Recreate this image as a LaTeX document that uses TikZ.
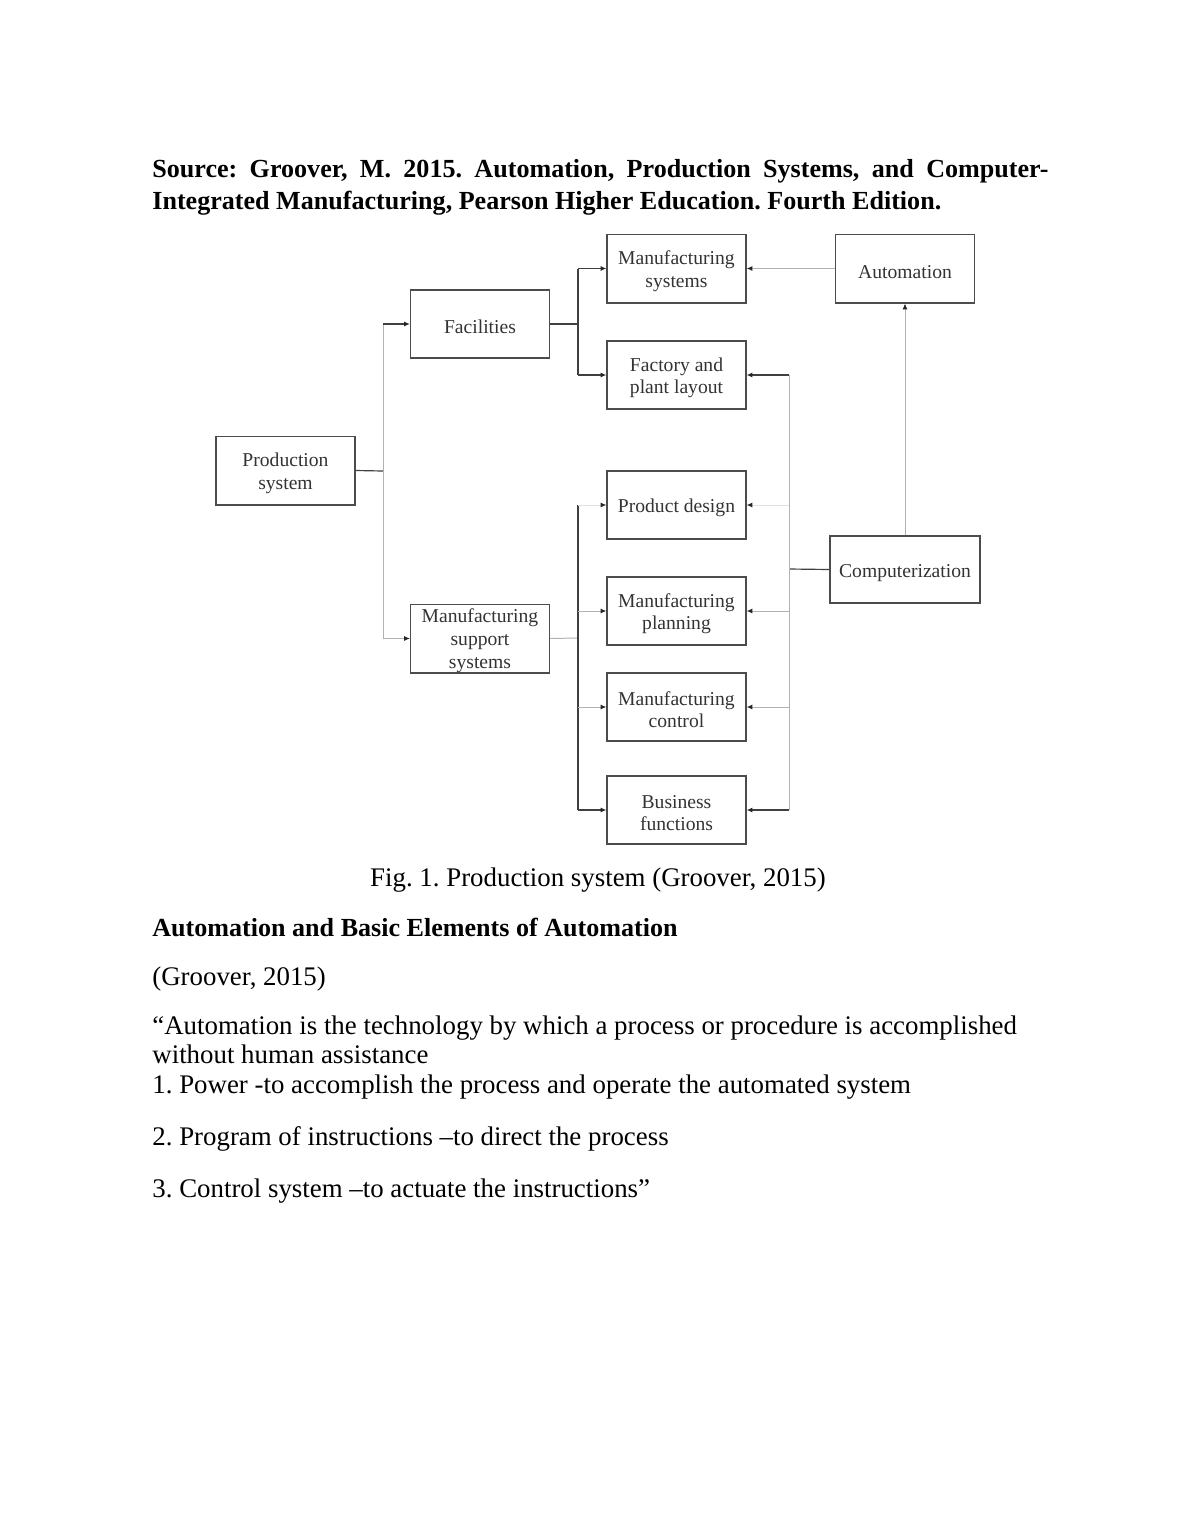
\documentclass[tikz,border=0pt]{standalone}
\usepackage{fontspec}
\setmainfont{Liberation Serif}
\usetikzlibrary{arrows.meta}
\frenchspacing
\newcommand\fl{\rule{0pt}{9.8pt}}
\begin{document}
\begin{tikzpicture}[x=0.51pt,y=-0.51pt,
  box/.style={draw=black!70,line width=0.8pt,minimum width=70.7pt,minimum height=34.9pt,inner sep=1pt,align=center,text=black!80,font=\fontsize{10}{11.5}\selectfont},
  dk/.style={draw=black!75,line width=0.6pt},
  lt/.style={draw=black!30,line width=0.5pt},
  vlt/.style={draw=black!12,line width=0.5pt},
  arr/.style={-{Latex[length=3pt,width=2.6pt,color=black!85]}},
  body/.style={anchor=base west,inner sep=0pt,font=\fontsize{13.7}{16}\selectfont},
  bodyb/.style={body,font=\bfseries\fontsize{13.3}{16}\selectfont}
]
\useasboundingbox[fill=white] (0,0) rectangle (1200,1529);

% text above
\node[bodyb] (src1) at (152,177) {\makebox[457pt][s]{Source: Groover, M. 2015. Automation, Production Systems, and Computer-}};
\node[bodyb] (src2) at (152,209) {Integrated Manufacturing, Pearson Higher Education. Fourth Edition.};

% boxes
\node[box] (prod) at (285.5,470.5) {\fl Production\\system};
\node[box] (fac)  at (480,324) {\fl Facilities};
\node[box,inner ysep=0pt] (mss)  at (480,638.5) {\rule{0pt}{9.3pt}Manufacturing\\support\\systems};
\node[box] (ms)   at (676.5,268.5) {\fl Manufacturing\\systems};
\node[box] (fp)   at (676.5,375) {\fl Factory and\\plant layout};
\node[box] (pd)   at (676.5,505) {\fl Product design};
\node[box] (mp)   at (676.5,611) {\fl Manufacturing\\planning};
\node[box] (mc)   at (676.5,707) {\fl Manufacturing\\control};
\node[box] (bf)   at (676.5,810) {\fl Business\\functions};
\node[box] (auto) at (905,268.5) {\fl Automation};
\node[box,minimum width=76.5pt,minimum height=34.2pt] (comp) at (905,569.5) {\fl Computerization};

% junctions
\coordinate (j1) at (383,471);
\coordinate (j2) at (578,324);
\coordinate (j3) at (578,638);
\coordinate (j4) at (789,569);

% production system branches
\draw[dk] (prod.east) -- (j1);
\draw[lt] (j1 |- fac.west) -- (j1 |- mss.west);
\draw[dk,arr] (j1 |- fac.west) -- (fac.west);
\draw[lt,arr] (j1 |- mss.west) -- (mss.west);

% facilities branches
\draw[dk] (fac.east) -- (j2);
\draw[dk] (j2 |- ms.west) -- (j2 |- fp.west);
\draw[dk,arr] (j2 |- ms.west) -- (ms.west);
\draw[dk,arr] (j2 |- fp.west) -- (fp.west);

% support systems branches
\draw[lt] (mss.east) -- (j3);
\draw[dk] (j3 |- pd.west) -- (j3 |- bf.west);
\draw[vlt,arr] (j3 |- pd.west) -- (pd.west);
\draw[lt,arr] (j3 |- mp.west) -- (mp.west);
\draw[lt,arr] (j3 |- mc.west) -- (mc.west);
\draw[dk,arr] (j3 |- bf.west) -- (bf.west);

% computerization branches
\draw[dk] (comp.west) -- (j4);
\draw[lt] (j4 |- fp.east) -- (j4 |- bf.east);
\draw[dk,arr] (j4 |- fp.east) -- (fp.east);
\draw[vlt,arr] (j4 |- pd.east) -- (pd.east);
\draw[lt,arr] (j4 |- mp.east) -- (mp.east);
\draw[lt,arr] (j4 |- mc.east) -- (mc.east);
\draw[dk,arr] (j4 |- bf.east) -- (bf.east);
\draw[lt,arr] (comp.north) -- (auto.south);
\draw[lt,arr] (auto.west) -- (ms.east);

% text below
\node[body,anchor=base] (cap) at (598,886) {Fig. 1. Production system (Groover, 2015)};
\node[bodyb] (head) at (152,936) {Automation and Basic Elements of Automation};
\node[body] (cite) at (152,985) {(Groover, 2015)};
\node[body] (q1) at (152,1034) {“Automation is the technology by which a process or procedure is accomplished};
\node[body] (q2) at (152,1063) {without human assistance};
\node[body] (q3) at (152,1093) {1. Power -to accomplish the process and operate the automated system};
\node[body] (q4) at (152,1145) {2. Program of instructions –to direct the process};
\node[body] (q5) at (152,1197) {3. Control system –to actuate the instructions”};
\end{tikzpicture}
\end{document}
